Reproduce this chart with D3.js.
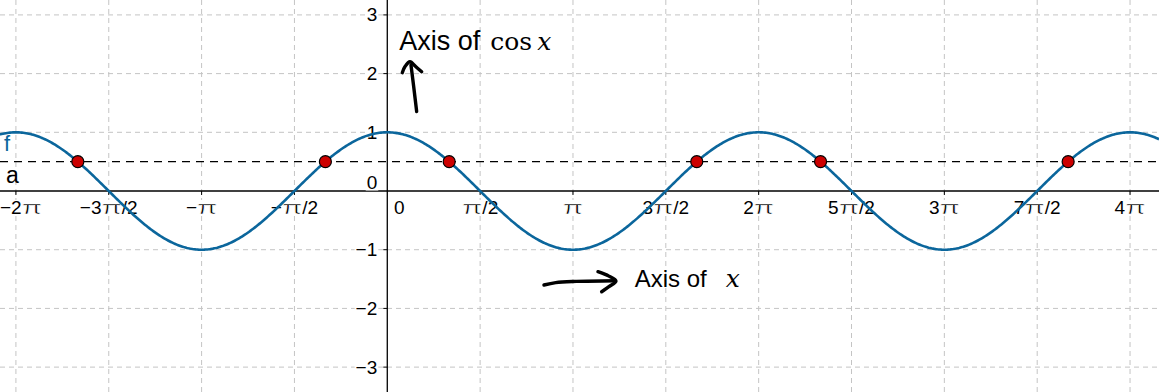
<!DOCTYPE html>
<html><head><meta charset="utf-8">
<script src="https://cdn.jsdelivr.net/npm/d3@7"></script>
<style>
html,body{margin:0;padding:0;background:#fff;}
svg{display:block;}
text{font-family:"Liberation Sans",Arial,sans-serif;}
</style></head>
<body>
<svg id="chart" width="1159" height="392"></svg>
<script>
// ---- data ----
const PI = Math.PI;
const xTickMultiples = [-4,-3,-2,-1,0,1,2,3,4,5,6,7,8]; // in units of π/2
const xTickLabels = ["−2π","−3π/2","−π","−π/2","0","π/2","π","3π/2","2π","5π/2","3π","7π/2","4π"];
const yTickValues = [-3,-2,-1,0,1,2,3];
const yTickLabels = ["−3","−2","−1","0","1","2","3"];
const aValue = 0.5;
const pointThirds = [-5,-1,1,5,7,11]; // intersection x in units of π/3
const fName = "f", aName = "a";

// ---- scales ----
const W = 1159, H = 392;
const x = d3.scaleLinear().domain([-2.0857*PI, 4.156*PI]).range([0, W]);
const y = d3.scaleLinear().domain([-3.424, 3.254]).range([H, 0]);
const svg = d3.select("#chart");

// grid
const gridX = xTickMultiples.filter(m => m !== 0).map(m => m*PI/2);
svg.append("g").selectAll("line").data(gridX).join("line")
  .attr("x1", d => x(d)).attr("x2", d => x(d)).attr("y1", 0).attr("y2", H)
  .attr("stroke", "#c4c4c4").attr("stroke-width", 1).attr("stroke-dasharray", "5,4");
svg.append("g").selectAll("line").data(yTickValues.filter(v => v !== 0)).join("line")
  .attr("x1", 0).attr("x2", W).attr("y1", d => y(d)).attr("y2", d => y(d))
  .attr("stroke", "#c4c4c4").attr("stroke-width", 1).attr("stroke-dasharray", "5,4");

// line y = a
svg.append("line").attr("x1", 0).attr("x2", W).attr("y1", y(aValue)).attr("y2", y(aValue))
  .attr("stroke", "#000").attr("stroke-width", 1.2).attr("stroke-dasharray", "8,6");

// axes
svg.append("line").attr("x1", 0).attr("x2", W).attr("y1", y(0)).attr("y2", y(0))
  .attr("stroke", "#000").attr("stroke-width", 1.3);
svg.append("line").attr("x1", x(0)).attr("x2", x(0)).attr("y1", 0).attr("y2", H)
  .attr("stroke", "#000").attr("stroke-width", 1.3);
// ticks
svg.append("g").selectAll("line").data(gridX).join("line")
  .attr("x1", d => x(d)).attr("x2", d => x(d)).attr("y1", y(0)).attr("y2", y(0)+4)
  .attr("stroke", "#000");
svg.append("g").selectAll("line").data(yTickValues.filter(v => v !== 0)).join("line")
  .attr("x1", x(0)-4).attr("x2", x(0)).attr("y1", d => y(d)).attr("y2", d => y(d))
  .attr("stroke", "#000");

// x tick labels (π glyph drawn wide and thin, as in the reference)
const PI_STRETCH = 1.55;
const xl = svg.append("g").selectAll("g").data(xTickMultiples.map((m,i)=>({v:m*PI/2, t:xTickLabels[i]}))).join("g");
xl.each(function(d){
  const g = d3.select(this);
  const bg = g.append("rect").attr("fill","#fff");
  const inner = g.append("g");
  let cx = 0;
  d.t.split(/(π)/).filter(s => s.length).forEach(part => {
    const t = inner.append("text").attr("font-size",19).text(part);
    const w = t.node().getComputedTextLength();
    if (part === "π") {
      t.attr("transform", `translate(${cx},0) scale(${PI_STRETCH},1)`)
       .attr("stroke","#fff").attr("stroke-width",0.55);
      cx += w*PI_STRETCH;
    } else { t.attr("x", cx); cx += w; }
  });
  let cxPos = d.v === 0 ? x(0)+12 : x(d.v);
  let left = cxPos - cx/2;
  if (left < 0) left = 0; // keep the leftmost label inside the picture
  inner.attr("transform", `translate(${left},${y(0)+23})`);
  bg.attr("x", left - 1).attr("y", y(0)+9).attr("width", cx+2).attr("height", 16);
});

// y tick labels
const yl = svg.append("g").selectAll("g").data(yTickValues.map((v,i)=>({v, t:yTickLabels[i]}))).join("g")
  .attr("transform", d => `translate(${x(0)-10},${d.v===0 ? y(0)-9 : y(d.v)})`);
yl.append("text").attr("text-anchor","end").attr("dominant-baseline","central").attr("font-size",19).text(d=>d.t)
  .each(function(){ const b=this.getBBox(); d3.select(this.parentNode).insert("rect","text")
    .attr("x",b.x-1).attr("y",b.y+2).attr("width",b.width+2).attr("height",b.height-4).attr("fill","#fff"); });

// curve f(x) = cos x
const xs = d3.range(0, 801).map(i => x.domain()[0] + (x.domain()[1]-x.domain()[0])*i/800);
svg.append("path").datum(xs)
  .attr("d", d3.line().x(d => x(d)).y(d => y(Math.cos(d))))
  .attr("fill","none").attr("stroke","#0b669c").attr("stroke-width",2.6);

// intersection points
svg.append("g").selectAll("circle").data(pointThirds).join("circle")
  .attr("cx", d => x(d*PI/3)).attr("cy", y(aValue)).attr("r", 6)
  .attr("fill","#cc0000").attr("stroke","#000").attr("stroke-width",1.2);

// object labels
svg.append("text").attr("x", 4).attr("y", y(1)+19).attr("font-size",22).attr("fill","#0b669c").text(fName);
svg.append("text").attr("x", 6).attr("y", y(aValue)+21).attr("font-size",23).attr("fill","#000").text(aName);

// annotations (hand drawn arrows, in data space)
const line = d3.line().x(d=>x(d[0])).y(d=>y(d[1])).curve(d3.curveCatmullRom);
const upShaft = [[0.497,1.354],[0.45,1.75],[0.401,2.147]];
const upHead = [[0.254,2.015],[0.30,2.12],[0.384,2.201],[0.48,2.12],[0.582,2.032]];
const rShaft = [[2.651,-1.601],[2.85,-1.56],[3.2,-1.54],[3.852,-1.528]];
const rHead = [[3.564,-1.375],[3.75,-1.45],[3.869,-1.533],[3.75,-1.63],[3.627,-1.716]];
[upShaft, upHead, rShaft, rHead].forEach(p => svg.append("path").attr("d", line(p))
  .attr("fill","none").attr("stroke","#000").attr("stroke-width",3.4)
  .attr("stroke-linecap","round").attr("stroke-linejoin","round"));

const serif = "'DejaVu Serif','Liberation Serif',serif";
const t1 = svg.append("text").attr("x", x(0.203)).attr("y", y(2.402)).attr("font-size",27);
t1.append("tspan").text("Axis of");
t1.append("tspan").attr("font-family",serif).attr("font-size",25).attr("dx",10).text("cos");
t1.append("tspan").attr("font-family",serif).attr("font-size",25).attr("font-style","italic").attr("dx",5).text("x");

const t2 = svg.append("text").attr("x", x(4.187)).attr("y", y(-1.64)).attr("font-size",24);
t2.append("tspan").text("Axis of");
t2.append("tspan").attr("font-family",serif).attr("font-size",25).attr("font-style","italic").attr("dx",19).text("x");
</script>
</body></html>
